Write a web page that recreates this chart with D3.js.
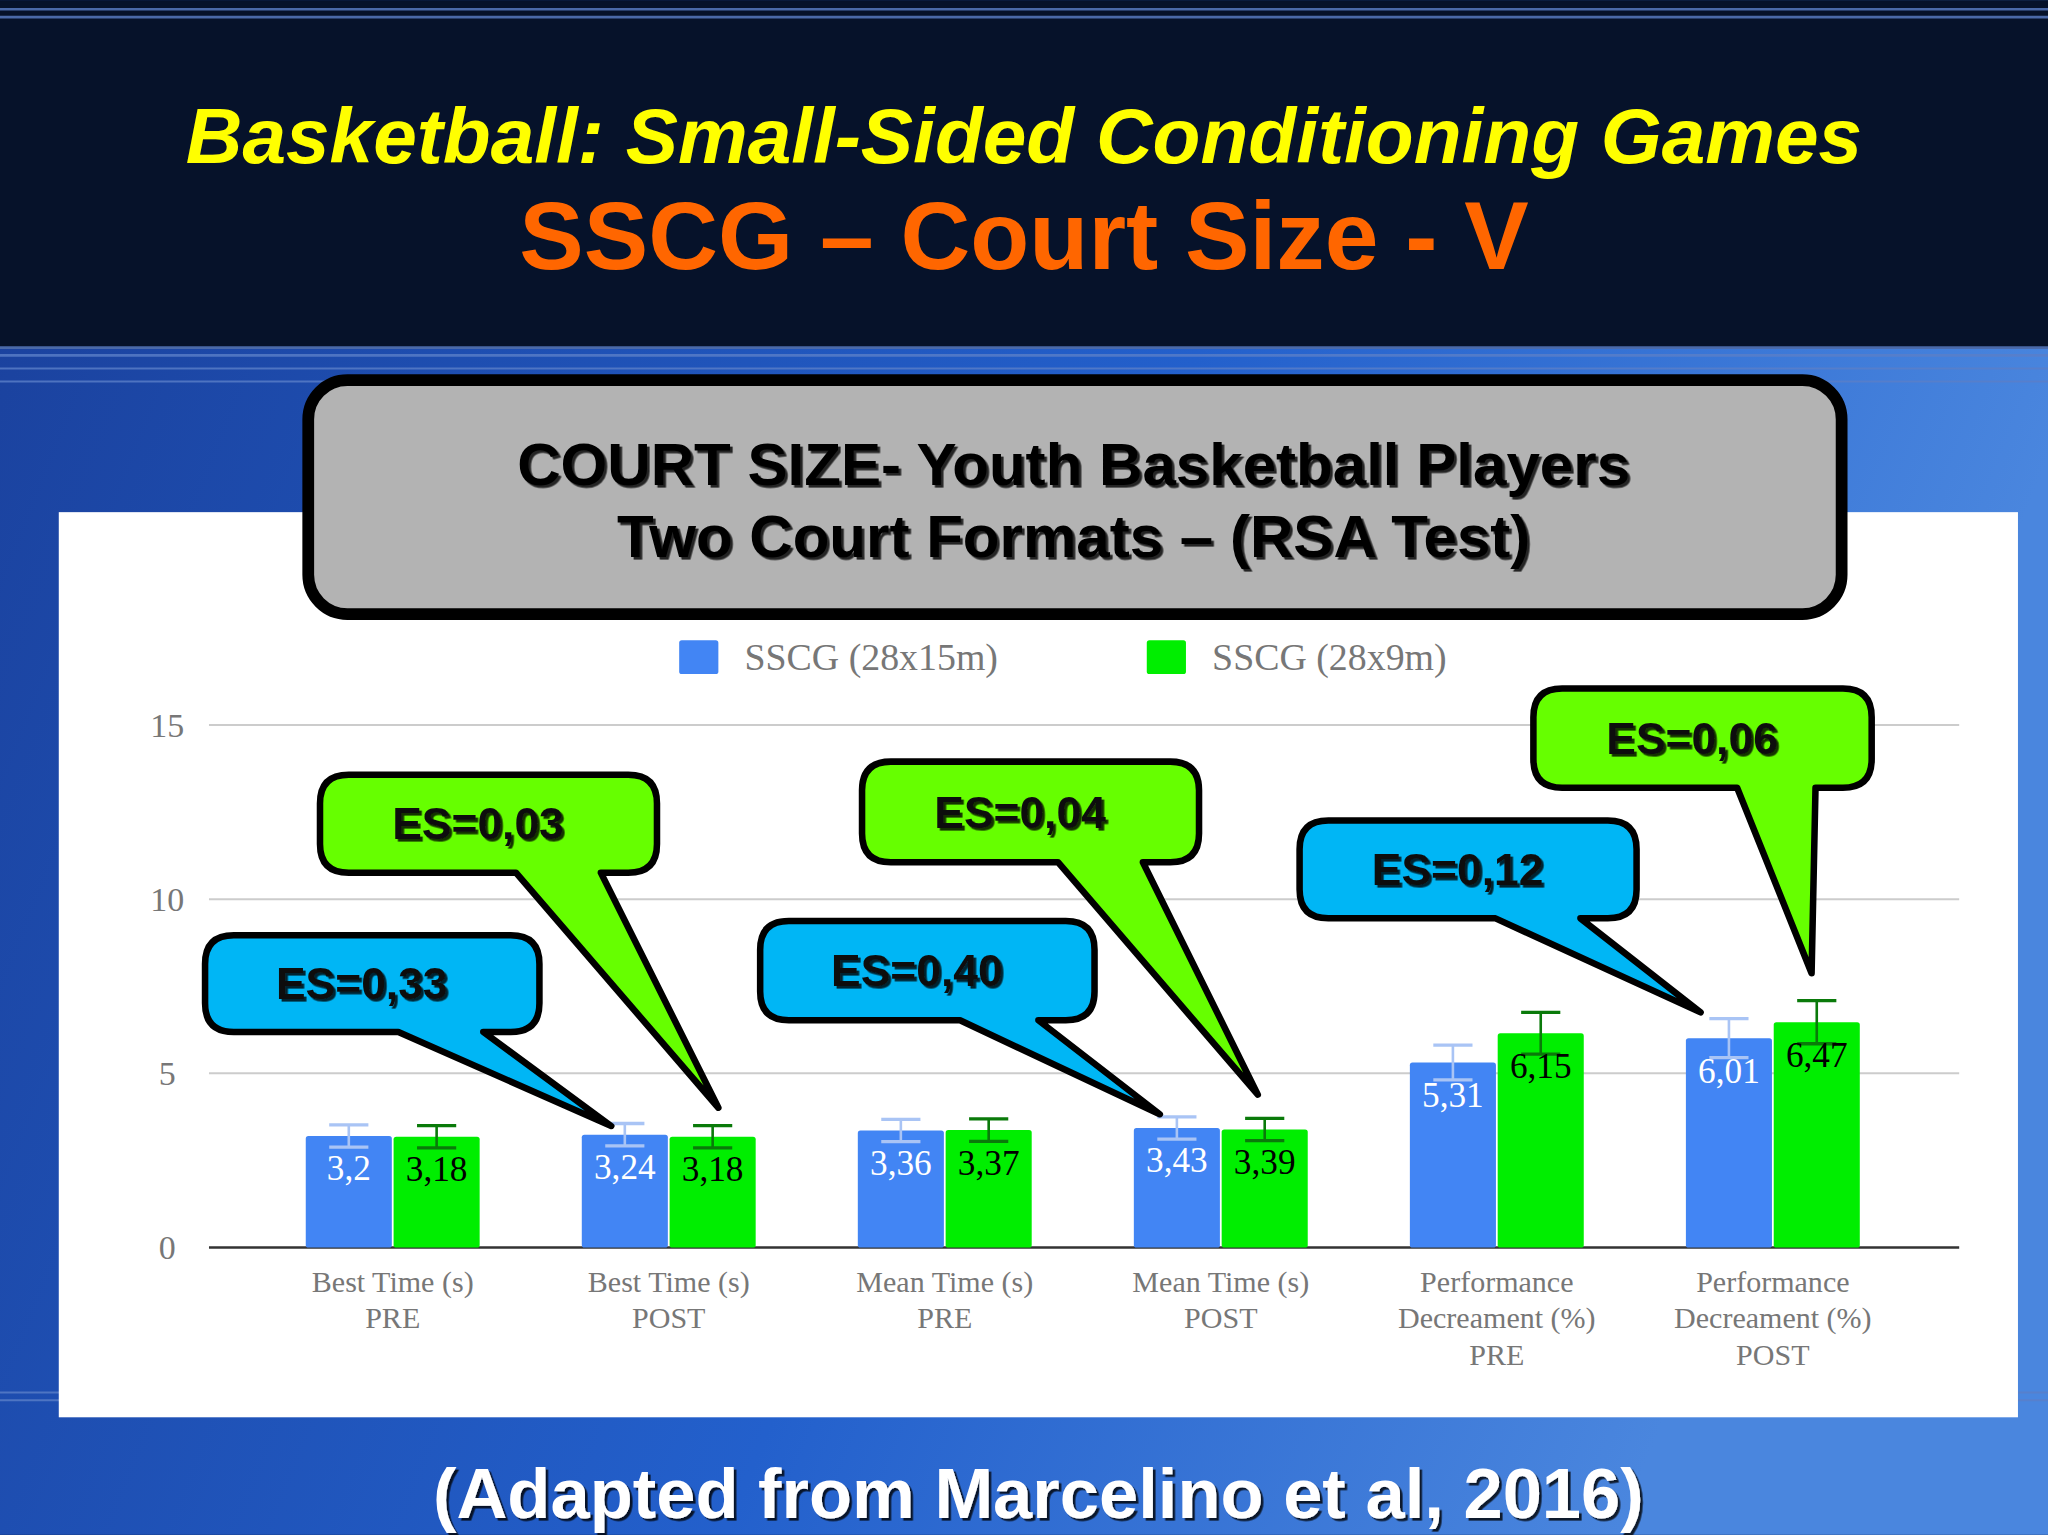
<!DOCTYPE html>
<html><head><meta charset="utf-8">
<script src="https://cdn.jsdelivr.net/npm/d3@7"></script>
<style>html,body{margin:0;padding:0;background:#06122a;overflow:hidden}</style>
</head><body>
<svg id="c" width="2048" height="1535" viewBox="0 0 1568 1175"></svg>
<script>
const categories = [["Best Time (s)","PRE"],["Best Time (s)","POST"],["Mean Time (s)","PRE"],["Mean Time (s)","POST"],["Performance","Decreament (%)","PRE"],["Performance","Decreament (%)","POST"]];
const seriesNames = ["SSCG (28x15m)","SSCG (28x9m)"];
const wide = [3.2,3.24,3.36,3.43,5.31,6.01];
const narrow = [3.18,3.18,3.37,3.39,6.15,6.47];
const wideErr = [0.32,0.32,0.32,0.32,0.5,0.56];
const narrowErr = [0.32,0.32,0.32,0.32,0.6,0.62];
const labelsWide = ["3,2","3,24","3,36","3,43","5,31","6,01"];
const labelsNarrow = ["3,18","3,18","3,37","3,39","6,15","6,47"];
const yTicks = [0,5,10,15];
const esLabels = ["ES=0,33","ES=0,03","ES=0,40","ES=0,04","ES=0,12","ES=0,06"];
const esColor = ["blue","green","blue","green","blue","green"];
// callout layout: rect [x0,y0,x1,y1], tail base [bx1,bx2], tip target [category index, series index]
const esBox = [[157,716,413,790],[245,593,503,668],[582,705,838,781],[660,583,918,660],[995,628,1253,703],[1174,527,1433,603]];
const esTail = [[305,370],[395,460],[735,795],[810,875],[1145,1210],[1330,1390]];
const esTip = [[468,862],[550,848],[888,853],[963,838],[1302,775],[1387,745]];

const svg = d3.select("#c");
const defs = svg.append("defs");
const g1 = defs.append("linearGradient").attr("id","bg").attr("x1",0).attr("x2",1).attr("y1",0).attr("y2",0.3);
g1.append("stop").attr("offset",0).attr("stop-color","#1a3f9a");
g1.append("stop").attr("offset",0.6).attr("stop-color","#2360cc");
g1.append("stop").attr("offset",1).attr("stop-color","#4a86de");
const sh = defs.append("filter").attr("id","sh");
sh.append("feDropShadow").attr("dx",2).attr("dy",2).attr("stdDeviation",0.5).attr("flood-color","#000").attr("flood-opacity",0.8);

svg.append("rect").attr("width",1568).attr("height",1175).attr("fill","url(#bg)");
svg.append("rect").attr("width",1568).attr("height",267).attr("fill","#06122a");
[[7,2],[13,2],[266,2],[272,2],[282,1.5],[292,1.5],[1066,1.5],[1072,1.5]].forEach(([y,w])=>
  svg.append("line").attr("x1",0).attr("x2",1568).attr("y1",y).attr("y2",y).attr("stroke","#5b7fc8").attr("stroke-width",w).attr("opacity",0.8));

svg.append("text").attr("x",784).attr("y",125).attr("text-anchor","middle")
  .attr("font-family","Liberation Sans, Arial").attr("font-weight","bold").attr("font-style","italic")
  .attr("font-size",60).attr("fill","#ffff00").text("Basketball: Small-Sided Conditioning Games");
svg.append("text").attr("x",784).attr("y",206).attr("text-anchor","middle")
  .attr("font-family","Liberation Sans, Arial").attr("font-weight","bold")
  .attr("font-size",74).attr("fill","#ff6600").text("SSCG – Court Size - V");

// chart panel
svg.append("rect").attr("x",45).attr("y",392).attr("width",1500).attr("height",693).attr("fill","#fff");

const x0 = d3.scaleBand().domain(d3.range(6)).range([195,1463]).paddingInner(0.37).paddingOuter(0.185);
const x1 = d3.scaleBand().domain([0,1]).range([0,x0.bandwidth()]).paddingInner(0.02);
const y = d3.scaleLinear().domain([0,15]).range([955,555]);

const grid = svg.append("g");
yTicks.forEach(t=>{
  grid.append("line").attr("x1",160).attr("x2",1500).attr("y1",y(t)).attr("y2",y(t))
    .attr("stroke",t===0?"#333":"#ccc").attr("stroke-width",t===0?2:1.5);
  grid.append("text").attr("x",128).attr("y",y(t)+9).attr("text-anchor","middle")
    .attr("font-family","Liberation Serif, DejaVu Serif").attr("font-size",26).attr("fill","#777").text(t);
});

const colors = ["#4285f4","#00ee00"];
const errCol = ["#a9c4f5","#0a7a0a"];
const vals = [wide,narrow], errs=[wideErr,narrowErr], labs=[labelsWide,labelsNarrow];
const bars = svg.append("g");
d3.range(6).forEach(i=>{
  [0,1].forEach(s=>{
    const bx = x0(i)+x1(s), bw = x1.bandwidth(), v = vals[s][i], e = errs[s][i];
    bars.append("rect").attr("x",bx).attr("y",y(v)).attr("width",bw).attr("height",y(0)-y(v))
      .attr("fill",colors[s]).attr("rx",2);
    const cx = bx+bw/2;
    bars.append("line").attr("x1",cx).attr("x2",cx).attr("y1",y(v+e)).attr("y2",y(v-e)).attr("stroke",errCol[s]).attr("stroke-width",2);
    [v+e,v-e].forEach(yy=>bars.append("line").attr("x1",cx-15).attr("x2",cx+15).attr("y1",y(yy)).attr("y2",y(yy)).attr("stroke",errCol[s]).attr("stroke-width",2.5));
    bars.append("text").attr("x",cx).attr("y",y(v)+34).attr("text-anchor","middle")
      .attr("font-family","Liberation Serif, DejaVu Serif").attr("font-size",27)
      .attr("fill",s===0?"#fff":"#000").text(labs[s][i]);
  });
  const cl = categories[i];
  cl.forEach((ln,k)=>svg.append("text").attr("x",x0(i)+x0.bandwidth()/2).attr("y",989+k*28).attr("text-anchor","middle")
    .attr("font-family","Liberation Serif, DejaVu Serif").attr("font-size",23).attr("fill","#777").text(ln));
});

// legend
[[520,0],[878,1]].forEach(([lx,s])=>{
  svg.append("rect").attr("x",lx).attr("y",490).attr("width",30).attr("height",26).attr("fill",colors[s]).attr("rx",2);
  svg.append("text").attr("x",lx+50).attr("y",513).attr("font-family","Liberation Serif, DejaVu Serif")
    .attr("font-size",29).attr("fill","#777").text(seriesNames[s]);
});

// header box
svg.append("rect").attr("x",236).attr("y",291).attr("width",1174).attr("height",179).attr("rx",30)
  .attr("fill","#b3b3b3").attr("stroke","#000").attr("stroke-width",9);
["COURT SIZE- Youth Basketball Players","Two Court Formats – (RSA Test)"].forEach((t,k)=>
  svg.append("text").attr("x",822).attr("y",371+k*55).attr("text-anchor","middle").attr("filter","url(#sh)")
    .attr("font-family","Liberation Sans, Arial").attr("font-weight","bold").attr("font-size",46).attr("fill","#000").text(t));

// callouts
function bubble(b,t,tip){
  const [a,b0,c,d]=b, r=22;
  return `M${a+r},${b0}H${c-r}Q${c},${b0} ${c},${b0+r}V${d-r}Q${c},${d} ${c-r},${d}H${t[1]}L${tip[0]},${tip[1]}L${t[0]},${d}H${a+r}Q${a},${d} ${a},${d-r}V${b0+r}Q${a},${b0} ${a+r},${b0}Z`;
}
d3.range(6).forEach(i=>{
  svg.append("path").attr("d",bubble(esBox[i],esTail[i],esTip[i]))
    .attr("fill",esColor[i]==="blue"?"#00b6f5":"#66ff00").attr("stroke","#000").attr("stroke-width",5).attr("stroke-linejoin","round");
  const b=esBox[i];
  svg.append("text").attr("x",(b[0]+b[2])/2-8).attr("y",(b[1]+b[3])/2+12).attr("text-anchor","middle").attr("filter","url(#sh)")
    .attr("font-family","Liberation Sans, Arial").attr("font-weight","bold").attr("font-size",34).attr("fill","#111").text(esLabels[i]);
});

svg.append("text").attr("x",795).attr("y",1162).attr("text-anchor","middle").attr("filter","url(#sh)")
  .attr("font-family","Liberation Sans, Arial").attr("font-weight","bold").attr("font-size",54).attr("fill","#fff")
  .text("(Adapted from Marcelino et al, 2016)");
</script>
</body></html>
